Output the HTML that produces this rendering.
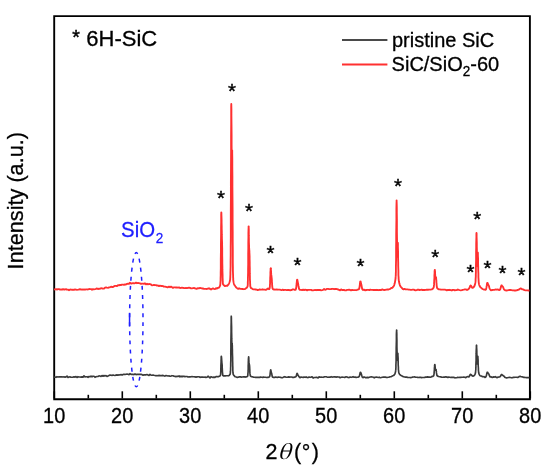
<!DOCTYPE html>
<html><head><meta charset="utf-8"><style>
html,body{margin:0;padding:0;background:#fff;width:550px;height:471px;overflow:hidden}
svg{display:block}
</style></head><body>
<svg width="550" height="471" viewBox="0 0 550 471" font-family="'Liberation Sans', Arial, sans-serif">
<rect x="0" y="0" width="550" height="471" fill="#fff"/>
<path d="M136.3,252.6 A6.7,67.1 0 0 0 136.3,386.8 A6.7,67.1 0 0 0 136.3,252.6" pathLength="300" fill="none" stroke="#2020ff" stroke-width="1.5" stroke-dasharray="4.3 5.7" stroke-dashoffset="2.15"/>
<line x1="129.55" y1="312.8" x2="129.55" y2="326.6" stroke="#2020ff" stroke-width="1.5"/>
<path d="M54.2,16.1 H529.9 V399.2 H54.2 Z" fill="none" stroke="#000" stroke-width="1.9"/>
<polyline points="54.0,377.2 55.0,377.1 56.0,377.3 57.0,376.7 58.0,377.0 59.0,376.9 60.0,376.8 61.0,376.8 62.0,376.9 63.0,377.0 64.0,376.8 65.0,377.2 66.0,376.9 67.0,376.1 68.0,377.5 69.0,377.0 70.0,376.9 71.0,377.2 72.0,377.2 73.0,377.1 74.0,376.8 75.0,377.1 76.0,376.6 77.0,377.5 78.0,376.7 79.0,377.0 80.0,377.0 81.0,377.1 82.0,376.9 83.0,377.1 84.0,375.9 85.0,376.9 86.0,376.8 87.0,376.7 88.0,377.3 89.0,376.5 90.0,376.8 91.0,376.1 92.0,376.8 93.0,376.2 94.0,376.2 95.0,377.3 96.0,376.8 97.0,376.5 98.0,376.5 99.0,375.9 100.0,376.0 101.0,376.4 102.0,375.5 103.0,376.2 104.0,375.5 105.0,376.0 106.0,375.6 107.0,376.4 108.0,376.0 109.0,375.5 110.0,375.0 111.0,375.3 112.0,375.4 113.0,375.0 114.0,375.3 115.0,375.5 116.0,375.1 117.0,374.9 118.0,375.2 119.0,374.8 120.0,375.0 121.0,374.6 122.0,375.1 123.0,374.5 124.0,374.2 125.0,374.5 126.0,374.2 127.0,374.1 128.0,374.3 129.0,374.6 130.0,373.7 131.0,374.3 132.0,374.3 133.0,374.3 134.0,374.6 135.0,373.9 136.0,374.6 137.0,374.3 138.0,374.4 139.0,374.3 140.0,374.3 141.0,374.3 142.0,374.6 143.0,375.2 144.0,374.9 145.0,374.8 146.0,374.8 147.0,374.5 148.0,374.9 149.0,375.4 150.0,374.4 151.0,375.1 152.0,375.2 153.0,375.0 154.0,375.3 155.0,375.5 156.0,375.8 157.0,375.6 158.0,375.7 159.0,375.4 160.0,375.6 161.0,375.5 162.0,375.6 163.0,375.4 164.0,375.8 165.0,376.1 166.0,375.6 167.0,375.8 168.0,376.0 169.0,375.9 170.0,376.2 171.0,376.1 172.0,375.7 173.0,375.8 174.0,376.3 175.0,376.4 176.0,376.6 177.0,376.3 178.0,376.4 179.0,375.9 180.0,376.8 181.0,376.2 182.0,376.8 183.0,376.2 184.0,376.4 185.0,376.6 186.0,376.5 187.0,376.5 188.0,377.0 189.0,376.9 190.0,376.9 191.0,376.7 192.0,376.6 193.0,376.7 194.0,376.7 195.0,376.9 196.0,377.1 197.0,376.9 198.0,376.7 199.0,376.8 200.0,377.4 201.0,377.0 202.0,377.1 203.0,377.1 204.0,377.2 205.0,377.1 206.0,377.4 207.0,377.3 208.0,376.2 209.0,377.0 210.0,378.0 211.0,376.7 212.0,377.1 213.0,377.4 214.0,377.1 215.0,377.4 216.0,376.6 217.0,376.6 218.0,376.8 218.2,376.7 218.4,376.6 218.6,376.6 218.8,376.5 219.0,376.4 219.2,376.3 219.4,376.2 219.4,376.2 219.5,376.2 219.6,376.1 219.6,376.1 219.7,376.1 219.7,376.1 219.8,376.0 219.8,376.0 219.8,376.0 219.9,375.9 219.9,375.9 220.0,375.8 220.1,375.8 220.1,375.8 220.2,375.8 220.2,375.8 220.2,375.7 220.3,375.7 220.3,375.6 220.4,375.4 220.4,375.2 220.5,374.9 220.6,374.6 220.6,374.0 220.7,373.4 220.7,372.6 220.8,371.5 220.8,370.3 220.8,368.9 220.9,367.3 220.9,365.6 221.0,363.9 221.1,362.1 221.1,360.4 221.2,359.0 221.2,357.8 221.2,356.9 221.3,356.4 221.3,356.2 221.4,356.4 221.4,356.9 221.5,357.5 221.6,358.3 221.6,359.1 221.7,359.9 221.7,360.6 221.8,361.2 221.8,361.8 221.8,362.3 221.9,362.7 221.9,363.2 222.0,363.7 222.1,364.4 222.1,365.1 222.2,365.9 222.2,366.9 222.2,367.9 222.3,368.9 222.3,369.9 222.4,370.9 222.4,371.8 222.5,372.6 222.6,373.3 222.6,373.8 222.7,374.3 222.7,374.7 222.8,375.0 222.8,375.2 222.8,375.4 222.9,375.5 222.9,375.6 223.0,375.6 223.1,375.7 223.1,375.7 223.2,375.7 223.2,375.8 223.2,375.8 223.3,375.8 223.5,375.8 223.7,375.8 223.9,375.8 224.1,375.8 224.3,375.9 224.5,375.9 224.7,375.9 224.9,376.0 225.1,376.0 225.3,375.9 226.3,375.8 227.3,375.7 228.3,375.8 228.5,375.7 228.7,375.7 228.9,375.6 229.1,375.4 229.3,375.3 229.5,375.1 229.6,375.0 229.6,374.9 229.7,374.9 229.7,374.8 229.8,374.8 229.8,374.7 229.8,374.6 229.9,374.5 229.9,374.5 230.0,374.4 230.1,374.3 230.1,374.2 230.2,374.1 230.2,373.9 230.2,373.8 230.3,373.5 230.3,373.2 230.4,372.7 230.4,372.1 230.5,371.2 230.6,369.9 230.6,368.3 230.7,366.3 230.7,363.7 230.8,360.5 230.8,356.7 230.8,352.3 230.9,347.5 230.9,342.3 231.0,337.0 231.1,331.7 231.1,326.9 231.2,322.6 231.2,319.4 231.2,317.2 231.3,316.2 231.3,316.6 231.4,318.1 231.4,320.6 231.5,323.9 231.6,327.6 231.6,331.5 231.7,335.2 231.7,338.4 231.8,341.1 231.8,343.0 231.8,344.1 231.9,344.6 231.9,344.6 232.0,344.2 232.1,343.8 232.1,343.4 232.2,343.4 232.2,343.7 232.2,344.5 232.3,345.8 232.3,347.7 232.4,349.9 232.4,352.5 232.5,355.2 232.6,357.9 232.6,360.6 232.7,363.1 232.7,365.4 232.8,367.3 232.8,369.0 232.8,370.4 232.9,371.5 232.9,372.3 233.0,373.0 233.1,373.5 233.1,373.8 233.2,374.1 233.2,374.3 233.2,374.5 233.3,374.6 233.5,374.9 233.7,375.2 233.9,375.4 234.1,375.6 234.3,375.9 234.5,376.1 234.7,376.4 234.9,376.6 235.1,376.7 235.3,376.8 236.3,377.0 237.3,377.4 238.3,377.2 239.3,376.8 240.3,376.8 241.3,377.1 242.3,377.0 243.3,376.9 244.3,376.8 245.3,377.1 245.5,377.0 245.7,376.9 245.9,376.9 246.1,376.8 246.3,376.8 246.5,376.8 246.7,376.7 246.8,376.7 246.8,376.7 246.8,376.7 246.9,376.6 246.9,376.6 247.0,376.6 247.1,376.6 247.1,376.5 247.2,376.5 247.2,376.5 247.2,376.5 247.3,376.4 247.3,376.4 247.4,376.4 247.4,376.3 247.5,376.3 247.6,376.2 247.6,376.1 247.7,376.0 247.7,375.8 247.8,375.6 247.8,375.3 247.8,374.9 247.9,374.4 247.9,373.7 248.0,372.8 248.1,371.8 248.1,370.5 248.2,369.1 248.2,367.5 248.2,365.7 248.3,364.0 248.3,362.2 248.4,360.6 248.4,359.2 248.5,358.1 248.6,357.3 248.6,356.9 248.7,356.9 248.7,357.2 248.8,357.8 248.8,358.7 248.8,359.7 248.9,360.7 248.9,361.6 249.0,362.4 249.1,363.0 249.1,363.5 249.2,363.8 249.2,363.9 249.2,364.0 249.3,364.1 249.3,364.2 249.4,364.5 249.4,364.9 249.5,365.4 249.6,366.1 249.6,366.9 249.7,367.9 249.7,368.8 249.8,369.8 249.8,370.7 249.8,371.6 249.9,372.4 249.9,373.1 250.0,373.7 250.1,374.2 250.1,374.6 250.2,374.9 250.2,375.2 250.2,375.4 250.3,375.6 250.3,375.7 250.4,375.8 250.4,375.9 250.5,376.0 250.6,376.0 250.6,376.1 250.8,376.3 251.0,376.5 251.2,376.6 251.4,376.6 251.6,376.6 251.8,376.7 252.0,376.7 252.2,376.7 252.4,376.8 252.6,376.8 253.6,377.2 254.6,377.2 255.6,377.4 256.6,377.4 257.6,377.3 258.6,377.4 259.6,377.4 260.6,377.1 261.6,377.3 262.6,377.4 263.6,377.1 264.6,377.2 265.6,377.3 266.6,377.5 267.6,377.4 267.8,377.4 268.0,377.3 268.2,377.3 268.4,377.3 268.6,377.2 268.8,377.2 268.9,377.2 268.9,377.2 268.9,377.1 269.0,377.1 269.1,377.1 269.1,377.0 269.1,377.0 269.2,377.0 269.2,376.9 269.3,376.9 269.4,376.8 269.4,376.8 269.4,376.7 269.5,376.7 269.6,376.6 269.6,376.5 269.6,376.4 269.7,376.3 269.8,376.1 269.8,376.0 269.9,375.7 269.9,375.5 269.9,375.2 270.0,374.9 270.1,374.6 270.1,374.2 270.1,373.8 270.2,373.4 270.2,373.0 270.3,372.5 270.4,372.0 270.4,371.6 270.4,371.1 270.5,370.7 270.6,370.4 270.6,370.2 270.6,370.0 270.7,369.9 270.8,370.0 270.8,370.1 270.9,370.2 270.9,370.5 270.9,370.7 271.0,371.0 271.1,371.3 271.1,371.6 271.1,371.9 271.2,372.1 271.2,372.3 271.3,372.5 271.4,372.6 271.4,372.8 271.4,372.9 271.5,373.1 271.6,373.2 271.6,373.3 271.6,373.5 271.7,373.7 271.8,373.9 271.8,374.1 271.9,374.4 271.9,374.7 271.9,374.9 272.0,375.2 272.1,375.5 272.1,375.7 272.1,376.0 272.2,376.2 272.2,376.4 272.3,376.5 272.4,376.7 272.4,376.8 272.4,376.9 272.5,377.0 272.6,377.1 272.6,377.1 272.6,377.2 272.7,377.2 272.9,377.2 273.1,377.3 273.3,377.3 273.5,377.3 273.7,377.3 273.9,377.3 274.1,377.3 274.3,377.4 274.5,377.4 274.7,377.5 275.7,377.1 276.7,377.3 277.7,377.3 278.7,377.0 279.7,377.2 280.7,377.4 281.7,377.7 282.7,377.6 283.7,377.0 284.7,376.7 285.7,377.1 286.7,377.2 287.7,377.1 288.7,376.9 289.7,377.1 290.7,377.0 291.7,377.0 292.7,377.4 293.7,377.4 293.9,377.3 294.1,377.3 294.3,377.2 294.5,377.1 294.7,377.1 294.9,377.0 295.1,377.0 295.3,376.9 295.4,376.9 295.4,376.9 295.4,376.9 295.5,376.9 295.6,376.8 295.6,376.8 295.6,376.8 295.7,376.8 295.8,376.7 295.8,376.7 295.9,376.7 295.9,376.6 295.9,376.6 296.0,376.5 296.1,376.4 296.1,376.3 296.1,376.3 296.2,376.2 296.2,376.0 296.3,375.9 296.4,375.8 296.4,375.6 296.4,375.4 296.5,375.2 296.6,375.0 296.6,374.8 296.6,374.6 296.7,374.4 296.8,374.2 296.8,374.1 296.9,373.9 296.9,373.8 296.9,373.6 297.0,373.5 297.1,373.5 297.1,373.4 297.1,373.4 297.2,373.5 297.2,373.5 297.3,373.6 297.4,373.7 297.4,373.8 297.4,373.9 297.5,374.0 297.6,374.1 297.6,374.3 297.6,374.4 297.7,374.5 297.8,374.6 297.8,374.8 297.9,374.9 297.9,375.0 297.9,375.1 298.0,375.3 298.1,375.3 298.1,375.4 298.1,375.4 298.2,375.5 298.2,375.6 298.3,375.6 298.4,375.7 298.4,375.8 298.4,375.9 298.5,376.0 298.6,376.1 298.6,376.2 298.6,376.2 298.7,376.3 298.8,376.4 298.8,376.5 298.9,376.5 298.9,376.6 298.9,376.6 299.0,376.6 299.1,376.7 299.1,376.8 299.3,377.1 299.5,377.3 299.7,377.5 299.9,377.7 300.1,377.7 300.3,377.5 300.5,377.4 300.7,377.2 300.9,377.1 301.1,377.0 302.1,377.2 303.1,377.4 304.1,377.1 305.1,377.3 306.1,376.9 307.1,377.5 308.1,377.6 309.1,377.1 310.1,377.3 311.1,377.1 312.1,376.8 313.1,378.1 314.1,377.5 315.1,377.5 316.1,377.4 317.1,377.4 318.1,377.9 319.1,376.8 320.1,377.2 321.1,377.1 322.1,377.2 323.1,377.3 324.1,376.9 325.1,376.7 326.1,376.7 327.1,377.1 328.1,377.2 329.1,377.1 330.1,377.2 331.1,376.7 332.1,377.1 333.1,377.0 334.1,376.8 335.1,376.8 336.1,377.2 337.1,376.9 338.1,377.0 339.1,377.0 340.1,377.7 341.1,377.2 342.1,377.1 343.1,377.2 344.1,377.3 345.1,377.3 346.1,376.8 347.1,377.0 348.1,377.5 349.1,377.6 350.1,377.1 351.1,377.3 352.1,377.1 353.1,376.7 354.1,377.2 355.1,377.0 356.1,377.5 357.1,377.2 357.3,377.2 357.5,377.2 357.7,377.2 357.9,377.2 358.1,377.2 358.3,377.1 358.5,377.0 358.6,376.9 358.6,376.9 358.6,376.9 358.7,376.8 358.8,376.8 358.8,376.8 358.9,376.7 358.9,376.7 358.9,376.6 359.0,376.6 359.1,376.5 359.1,376.5 359.1,376.5 359.2,376.4 359.2,376.3 359.3,376.2 359.4,376.1 359.4,376.0 359.4,375.9 359.5,375.7 359.6,375.5 359.6,375.3 359.6,375.1 359.7,374.9 359.8,374.7 359.8,374.4 359.9,374.2 359.9,374.0 359.9,373.7 360.0,373.5 360.1,373.3 360.1,373.0 360.1,372.8 360.2,372.7 360.2,372.5 360.3,372.4 360.4,372.3 360.4,372.3 360.4,372.3 360.5,372.3 360.6,372.3 360.6,372.4 360.6,372.5 360.7,372.6 360.8,372.6 360.8,372.7 360.9,372.8 360.9,372.9 360.9,373.0 361.0,373.1 361.1,373.3 361.1,373.4 361.1,373.6 361.2,373.7 361.2,373.8 361.3,374.0 361.4,374.1 361.4,374.3 361.4,374.5 361.5,374.6 361.6,374.8 361.6,375.0 361.6,375.2 361.7,375.4 361.8,375.5 361.8,375.7 361.9,375.9 361.9,376.1 361.9,376.2 362.0,376.4 362.1,376.5 362.1,376.6 362.1,376.8 362.2,376.9 362.2,376.9 362.3,377.0 362.5,377.3 362.7,377.5 362.9,377.6 363.1,377.6 363.3,377.4 363.5,377.3 363.7,377.1 363.9,377.0 364.1,377.0 364.3,377.1 365.3,377.6 366.3,377.6 367.3,377.4 368.3,377.6 369.3,377.3 370.3,377.0 371.3,376.8 372.3,377.0 373.3,377.2 374.3,377.8 375.3,377.3 376.3,377.1 377.3,377.2 378.3,377.5 379.3,377.2 380.3,377.7 381.3,377.5 382.3,377.2 383.3,377.1 384.3,377.1 385.3,377.0 386.3,377.4 387.3,377.5 388.3,377.3 389.3,377.1 390.3,376.7 391.3,376.6 392.3,376.0 393.3,375.6 393.5,375.5 393.7,375.4 393.9,375.2 394.1,375.1 394.3,374.9 394.5,374.6 394.7,374.3 394.8,374.2 394.8,374.1 394.9,374.0 394.9,373.9 394.9,373.8 395.0,373.7 395.1,373.6 395.1,373.4 395.1,373.2 395.2,373.0 395.2,372.8 395.3,372.6 395.4,372.4 395.4,372.2 395.4,372.0 395.5,371.7 395.6,371.4 395.6,371.1 395.6,370.7 395.7,370.2 395.8,369.6 395.8,368.9 395.9,367.9 395.9,366.6 395.9,365.0 396.0,363.1 396.1,360.8 396.1,358.1 396.1,355.0 396.2,351.6 396.2,347.9 396.3,344.2 396.4,340.5 396.4,337.1 396.4,334.2 396.5,332.0 396.6,330.5 396.6,330.0 396.6,330.4 396.7,331.7 396.8,333.8 396.8,336.5 396.9,339.7 396.9,343.2 396.9,346.6 397.0,349.9 397.1,352.9 397.1,355.4 397.1,357.4 397.2,358.9 397.2,359.8 397.3,360.1 397.4,360.0 397.4,359.5 397.4,358.6 397.5,357.6 397.6,356.4 397.6,355.3 397.6,354.4 397.7,353.6 397.8,353.2 397.8,353.2 397.9,353.5 397.9,354.2 397.9,355.2 398.0,356.5 398.1,358.1 398.1,359.7 398.1,361.4 398.2,363.1 398.2,364.7 398.3,366.1 398.4,367.3 398.4,368.4 398.4,369.3 398.5,370.1 398.6,370.7 398.6,371.2 398.8,372.5 399.0,373.2 399.2,373.6 399.4,374.0 399.6,374.3 399.8,374.5 400.0,374.7 400.2,374.9 400.4,375.1 400.6,375.3 401.6,375.8 402.6,376.4 403.6,376.7 404.6,377.0 405.6,377.1 406.6,377.1 407.6,377.4 408.6,377.5 409.6,377.5 410.6,377.6 411.6,377.5 412.6,377.1 413.6,377.0 414.6,376.9 415.6,377.2 416.6,377.3 417.6,377.4 418.6,377.5 419.6,377.3 420.6,377.3 421.6,377.6 422.6,377.5 423.6,377.5 424.6,377.4 425.6,377.1 426.6,377.1 427.6,376.9 428.6,377.1 429.6,377.1 430.6,377.2 431.6,376.8 431.8,376.6 432.0,376.4 432.2,376.4 432.4,376.4 432.6,376.4 432.8,376.4 433.0,376.3 433.1,376.3 433.1,376.3 433.1,376.2 433.2,376.2 433.2,376.2 433.3,376.1 433.4,376.1 433.4,376.0 433.4,376.0 433.5,375.9 433.6,375.9 433.6,375.8 433.6,375.7 433.7,375.6 433.8,375.4 433.8,375.3 433.9,375.1 433.9,374.8 433.9,374.5 434.0,374.1 434.1,373.7 434.1,373.2 434.1,372.6 434.2,372.0 434.2,371.3 434.3,370.5 434.4,369.7 434.4,368.9 434.4,368.1 434.5,367.3 434.6,366.5 434.6,365.9 434.6,365.3 434.7,364.9 434.8,364.6 434.8,364.5 434.9,364.5 434.9,364.7 434.9,365.0 435.0,365.4 435.1,365.9 435.1,366.5 435.1,367.1 435.2,367.7 435.2,368.3 435.3,368.8 435.4,369.3 435.4,369.6 435.4,369.9 435.5,370.0 435.6,370.1 435.6,370.1 435.6,370.0 435.7,369.9 435.8,369.8 435.8,369.6 435.9,369.5 435.9,369.4 435.9,369.4 436.0,369.5 436.1,369.6 436.1,369.7 436.1,370.0 436.2,370.3 436.2,370.7 436.3,371.1 436.4,371.5 436.4,372.0 436.4,372.4 436.5,372.9 436.6,373.3 436.6,373.7 436.6,374.0 436.7,374.3 436.8,374.6 436.8,374.9 437.0,375.5 437.2,375.8 437.4,376.0 437.6,376.1 437.8,376.2 438.0,376.3 438.2,376.3 438.4,376.4 438.6,376.4 438.8,376.5 439.8,376.8 440.8,376.9 441.8,377.2 442.8,377.2 443.8,377.1 444.8,377.1 445.8,376.8 446.8,377.1 447.8,377.4 448.8,377.1 449.8,377.2 450.8,377.5 451.8,377.2 452.8,377.4 453.8,377.3 454.8,377.9 455.8,377.8 456.8,377.7 457.8,377.3 458.8,377.5 459.8,377.3 460.8,377.4 461.8,377.2 462.8,377.3 463.8,377.1 464.8,377.3 465.8,377.7 466.8,376.9 467.0,376.7 467.2,376.7 467.4,376.7 467.6,376.7 467.8,376.6 468.0,376.6 468.2,376.7 468.4,376.8 468.4,376.8 468.5,376.8 468.6,376.8 468.6,376.8 468.6,376.8 468.7,376.8 468.8,376.8 468.8,376.8 468.9,376.8 468.9,376.8 468.9,376.8 469.0,376.8 469.1,376.7 469.1,376.7 469.1,376.6 469.2,376.6 469.2,376.5 469.3,376.4 469.4,376.3 469.4,376.2 469.4,376.1 469.5,376.0 469.6,375.9 469.6,375.8 469.6,375.7 469.7,375.6 469.8,375.5 469.8,375.4 469.9,375.3 469.9,375.1 469.9,375.0 470.0,375.0 470.1,374.8 470.1,374.7 470.1,374.7 470.2,374.6 470.2,374.5 470.3,374.5 470.4,374.4 470.4,374.4 470.4,374.4 470.5,374.4 470.6,374.4 470.6,374.4 470.6,374.4 470.7,374.4 470.8,374.5 470.8,374.5 470.9,374.5 470.9,374.6 470.9,374.6 471.0,374.6 471.1,374.7 471.1,374.7 471.1,374.8 471.2,374.8 471.2,374.9 471.3,374.9 471.4,375.0 471.4,375.0 471.4,375.0 471.5,375.1 471.6,375.1 471.6,375.2 471.6,375.2 471.7,375.3 471.8,375.3 471.8,375.4 471.9,375.4 471.9,375.5 471.9,375.6 472.0,375.6 472.1,375.7 472.1,375.7 472.1,375.8 472.2,375.8 472.2,375.9 472.3,375.9 472.5,376.0 472.7,376.1 472.9,376.2 473.1,376.1 473.3,376.1 473.5,376.0 473.7,375.9 473.9,375.7 474.1,375.5 474.3,375.4 474.5,375.2 474.7,374.9 474.8,374.9 474.8,374.8 474.9,374.7 474.9,374.6 474.9,374.5 475.0,374.5 475.1,374.3 475.1,374.2 475.1,374.0 475.2,373.9 475.2,373.7 475.3,373.6 475.4,373.4 475.4,373.1 475.4,372.9 475.5,372.6 475.6,372.2 475.6,371.8 475.6,371.2 475.7,370.5 475.8,369.7 475.8,368.6 475.9,367.4 475.9,365.9 475.9,364.2 476.0,362.2 476.1,360.2 476.1,358.0 476.1,355.7 476.2,353.4 476.2,351.2 476.3,349.3 476.4,347.6 476.4,346.3 476.4,345.5 476.5,345.2 476.6,345.4 476.6,346.1 476.6,347.3 476.7,348.9 476.8,350.7 476.8,352.8 476.9,354.8 476.9,356.9 476.9,358.8 477.0,360.5 477.1,361.9 477.1,362.9 477.1,363.6 477.2,363.9 477.2,363.9 477.3,363.6 477.4,363.0 477.4,362.2 477.4,361.2 477.5,360.2 477.6,359.1 477.6,358.1 477.6,357.3 477.7,356.7 477.8,356.3 477.8,356.3 477.9,356.5 477.9,357.1 477.9,357.9 478.0,359.0 478.1,360.2 478.1,361.6 478.1,363.0 478.2,364.4 478.2,365.8 478.3,367.0 478.4,368.2 478.4,369.2 478.4,370.1 478.5,370.9 478.7,372.8 478.9,373.6 479.1,374.1 479.3,374.5 479.5,374.9 479.7,375.2 479.9,375.5 480.1,375.7 480.3,375.8 480.5,375.8 481.5,376.0 482.5,376.7 483.5,376.8 483.7,376.7 483.9,376.6 484.1,376.6 484.3,376.8 484.5,377.0 484.7,377.1 484.9,377.3 485.1,377.3 485.3,377.3 485.5,377.2 485.6,377.1 485.6,377.1 485.6,377.1 485.7,377.0 485.8,377.0 485.8,376.9 485.9,376.9 485.9,376.8 485.9,376.7 486.0,376.6 486.1,376.5 486.1,376.4 486.1,376.3 486.2,376.1 486.2,376.0 486.3,375.8 486.4,375.7 486.4,375.5 486.4,375.3 486.5,375.1 486.6,374.9 486.6,374.6 486.6,374.4 486.7,374.2 486.8,373.9 486.8,373.7 486.9,373.5 486.9,373.3 486.9,373.1 487.0,372.9 487.1,372.7 487.1,372.6 487.1,372.5 487.2,372.4 487.2,372.3 487.3,372.2 487.4,372.2 487.4,372.2 487.4,372.2 487.5,372.2 487.6,372.3 487.6,372.3 487.6,372.4 487.7,372.5 487.8,372.6 487.8,372.7 487.9,372.8 487.9,372.9 487.9,373.0 488.0,373.1 488.1,373.2 488.1,373.2 488.1,373.3 488.2,373.4 488.2,373.4 488.3,373.5 488.4,373.5 488.4,373.6 488.4,373.6 488.5,373.7 488.6,373.7 488.6,373.8 488.6,373.8 488.7,373.9 488.8,374.0 488.8,374.1 488.9,374.1 488.9,374.2 488.9,374.3 489.0,374.4 489.1,374.5 489.1,374.7 489.1,374.9 489.2,375.0 489.2,375.2 489.3,375.3 489.5,375.8 489.7,376.3 489.9,376.6 490.1,376.8 490.3,376.8 490.5,376.8 490.7,376.7 490.9,376.7 491.1,376.7 491.3,376.9 492.3,377.4 493.3,376.9 494.3,377.1 495.3,376.7 496.3,377.4 497.3,377.6 498.3,377.1 498.5,377.1 498.7,377.0 498.9,377.0 499.1,377.0 499.3,377.0 499.5,377.0 499.7,376.9 499.8,376.9 499.8,376.9 499.9,376.8 499.9,376.8 499.9,376.8 500.0,376.7 500.1,376.7 500.1,376.7 500.1,376.6 500.2,376.6 500.2,376.5 500.3,376.5 500.4,376.4 500.4,376.3 500.4,376.2 500.5,376.2 500.6,376.1 500.6,376.0 500.6,375.9 500.7,375.8 500.8,375.7 500.8,375.6 500.9,375.5 500.9,375.4 500.9,375.3 501.0,375.2 501.1,375.1 501.1,375.0 501.1,374.9 501.2,374.8 501.2,374.7 501.3,374.7 501.4,374.6 501.4,374.6 501.4,374.5 501.5,374.5 501.6,374.5 501.6,374.5 501.6,374.5 501.7,374.5 501.8,374.6 501.8,374.6 501.9,374.6 501.9,374.7 501.9,374.7 502.0,374.8 502.1,374.8 502.1,374.8 502.1,374.9 502.2,374.9 502.2,375.0 502.3,375.0 502.4,375.0 502.4,375.1 502.4,375.1 502.5,375.1 502.6,375.2 502.6,375.2 502.6,375.2 502.7,375.3 502.8,375.3 502.8,375.3 502.9,375.4 502.9,375.4 502.9,375.5 503.0,375.5 503.1,375.5 503.1,375.6 503.1,375.6 503.2,375.6 503.2,375.7 503.3,375.7 503.4,375.7 503.4,375.8 503.4,375.8 503.5,375.9 503.7,376.0 503.9,376.1 504.1,376.3 504.3,376.6 504.5,376.9 504.7,377.1 504.9,377.3 505.1,377.4 505.3,377.5 505.5,377.5 506.5,377.9 507.5,377.8 508.5,377.5 509.5,377.4 510.5,377.5 511.5,377.8 512.5,377.6 513.5,377.3 514.5,377.3 515.5,377.2 516.5,377.3 517.5,377.4 517.7,377.4 517.9,377.4 518.1,377.3 518.3,377.2 518.5,377.0 518.7,376.9 518.8,376.8 518.8,376.8 518.9,376.7 518.9,376.7 519.0,376.7 519.0,376.6 519.0,376.6 519.1,376.6 519.1,376.6 519.2,376.6 519.2,376.6 519.3,376.5 519.4,376.5 519.4,376.5 519.5,376.5 519.5,376.5 519.5,376.5 519.6,376.5 519.6,376.5 519.7,376.4 519.8,376.4 519.8,376.4 519.9,376.4 519.9,376.4 520.0,376.4 520.0,376.4 520.0,376.4 520.1,376.4 520.1,376.4 520.2,376.4 520.2,376.4 520.3,376.4 520.4,376.4 520.4,376.5 520.5,376.5 520.5,376.5 520.5,376.5 520.6,376.5 520.6,376.6 520.7,376.6 520.8,376.6 520.8,376.6 520.9,376.6 520.9,376.7 521.0,376.7 521.0,376.7 521.0,376.7 521.1,376.7 521.1,376.7 521.2,376.7 521.2,376.7 521.3,376.7 521.4,376.7 521.4,376.7 521.5,376.7 521.5,376.7 521.5,376.7 521.6,376.7 521.6,376.7 521.7,376.7 521.8,376.7 521.8,376.7 521.9,376.7 521.9,376.7 522.0,376.7 522.0,376.7 522.0,376.7 522.1,376.7 522.1,376.7 522.2,376.8 522.2,376.8 522.3,376.8 522.4,376.8 522.4,376.8 522.5,376.9 522.5,376.9 522.7,377.0 522.9,377.1 523.1,377.1 523.3,377.2 523.5,377.3 523.7,377.3 523.9,377.3 524.1,377.4 524.3,377.4 524.5,377.4 525.5,377.5 526.5,377.6 527.5,377.5 528.5,377.6 529.5,377.6" fill="none" stroke="#3a3a3a" stroke-width="1.65" stroke-linejoin="round"/>
<polyline points="54.0,289.5 55.0,289.3 56.0,289.2 57.0,289.5 58.0,289.2 59.0,289.1 60.0,289.6 61.0,289.5 62.0,289.7 63.0,289.2 64.0,289.5 65.0,289.5 66.0,289.1 67.0,289.7 68.0,289.6 69.0,290.2 70.0,289.6 71.0,289.5 72.0,289.9 73.0,289.6 74.0,289.8 75.0,289.4 76.0,289.6 77.0,289.8 78.0,289.7 79.0,289.5 80.0,289.2 81.0,289.6 82.0,289.5 83.0,289.7 84.0,289.5 85.0,289.7 86.0,289.4 87.0,289.4 88.0,289.5 89.0,289.0 90.0,289.2 91.0,289.1 92.0,289.8 93.0,289.1 94.0,289.3 95.0,289.2 96.0,288.9 97.0,288.4 98.0,289.1 99.0,288.6 100.0,288.9 101.0,288.1 102.0,288.3 103.0,288.7 104.0,288.6 105.0,287.6 106.0,287.5 107.0,287.7 108.0,287.8 109.0,287.4 110.0,287.3 111.0,286.7 112.0,287.0 113.0,287.0 114.0,286.3 115.0,285.8 116.0,285.8 117.0,286.1 118.0,285.1 119.0,285.4 120.0,284.9 121.0,285.0 122.0,284.7 123.0,284.6 124.0,284.9 125.0,284.4 126.0,284.5 127.0,283.9 128.0,283.7 129.0,283.8 130.0,282.7 131.0,283.5 132.0,283.5 133.0,283.0 134.0,283.5 135.0,283.1 136.0,282.6 137.0,283.2 138.0,283.0 139.0,283.2 140.0,283.4 141.0,283.9 142.0,283.6 143.0,283.6 144.0,283.9 145.0,283.3 146.0,284.4 147.0,283.8 148.0,284.4 149.0,284.0 150.0,284.2 151.0,284.5 152.0,285.4 153.0,285.2 154.0,284.9 155.0,285.2 156.0,285.1 157.0,285.6 158.0,285.5 159.0,286.1 160.0,285.6 161.0,286.0 162.0,286.0 163.0,286.2 164.0,286.7 165.0,286.6 166.0,286.9 167.0,287.2 168.0,287.2 169.0,286.6 170.0,287.2 171.0,286.6 172.0,287.2 173.0,287.9 174.0,287.3 175.0,287.3 176.0,287.5 177.0,287.5 178.0,287.6 179.0,287.4 180.0,288.0 181.0,287.9 182.0,287.6 183.0,287.8 184.0,288.0 185.0,288.1 186.0,288.0 187.0,288.1 188.0,287.8 189.0,287.6 190.0,287.8 191.0,288.3 192.0,288.3 193.0,288.1 194.0,288.0 195.0,288.3 196.0,288.7 197.0,288.7 198.0,288.1 199.0,288.3 200.0,287.9 201.0,288.1 202.0,288.5 203.0,288.5 204.0,288.8 205.0,288.9 206.0,288.8 207.0,289.0 208.0,288.5 209.0,288.3 210.0,288.9 211.0,289.5 212.0,288.8 213.0,288.4 214.0,288.8 215.0,289.1 216.0,288.2 217.0,288.6 218.0,287.8 218.2,287.8 218.4,287.8 218.6,287.8 218.8,287.7 219.0,287.6 219.2,287.4 219.4,287.1 219.4,287.0 219.5,286.9 219.6,286.8 219.6,286.7 219.7,286.6 219.7,286.5 219.8,286.4 219.8,286.3 219.8,286.2 219.9,286.1 219.9,286.0 220.0,285.8 220.1,285.7 220.1,285.6 220.2,285.4 220.2,285.2 220.2,284.9 220.3,284.6 220.3,284.1 220.4,283.5 220.4,282.7 220.5,281.6 220.6,280.1 220.6,278.1 220.7,275.6 220.7,272.4 220.8,268.6 220.8,264.0 220.8,258.7 220.9,252.8 220.9,246.5 221.0,239.9 221.1,233.5 221.1,227.5 221.2,222.2 221.2,217.8 221.2,214.6 221.3,212.8 221.3,212.3 221.4,213.0 221.4,214.6 221.5,217.1 221.6,220.0 221.6,223.0 221.7,226.0 221.7,228.7 221.8,231.0 221.8,233.1 221.8,234.9 221.9,236.6 221.9,238.4 222.0,240.5 222.1,242.8 222.1,245.4 222.2,248.5 222.2,251.9 222.2,255.6 222.3,259.4 222.3,263.1 222.4,266.6 222.4,269.9 222.5,272.8 222.6,275.4 222.6,277.5 222.7,279.2 222.7,280.6 222.8,281.7 222.8,282.5 222.8,283.1 222.9,283.5 222.9,283.8 223.0,284.0 223.1,284.2 223.1,284.3 223.2,284.5 223.2,284.5 223.2,284.6 223.3,284.7 223.5,284.9 223.7,285.1 223.9,285.2 224.1,285.4 224.3,285.6 224.5,285.8 224.7,286.0 224.9,286.1 225.1,286.1 225.3,286.0 226.3,285.6 227.3,285.8 228.3,284.7 228.5,284.4 228.7,284.1 228.9,283.7 229.1,283.3 229.3,282.8 229.5,282.2 229.6,282.1 229.6,281.9 229.7,281.8 229.7,281.6 229.8,281.4 229.8,281.2 229.8,281.0 229.9,280.7 229.9,280.5 230.0,280.3 230.1,280.0 230.1,279.6 230.2,279.2 230.2,278.8 230.2,278.2 230.3,277.4 230.3,276.3 230.4,274.8 230.4,272.8 230.5,270.1 230.6,266.4 230.6,261.5 230.7,255.2 230.7,247.3 230.8,237.7 230.8,226.3 230.8,213.1 230.9,198.5 230.9,182.9 231.0,166.8 231.1,151.0 231.1,136.4 231.2,123.7 231.2,113.7 231.2,107.1 231.3,104.0 231.3,104.7 231.4,108.8 231.4,115.6 231.5,124.5 231.6,134.5 231.6,144.4 231.7,153.5 231.7,160.8 231.8,165.9 231.8,168.5 231.8,168.7 231.9,166.8 231.9,163.4 232.0,159.2 232.1,155.1 232.1,151.9 232.2,150.3 232.2,150.7 232.2,153.6 232.3,158.9 232.3,166.4 232.4,175.8 232.4,186.6 232.5,198.1 232.6,209.8 232.6,221.2 232.7,231.8 232.7,241.4 232.8,249.7 232.8,256.8 232.8,262.6 232.9,267.2 232.9,270.8 233.0,273.5 233.1,275.6 233.1,277.1 233.2,278.3 233.2,279.2 233.2,279.9 233.3,280.4 233.5,281.8 233.7,282.9 233.9,283.8 234.1,284.4 234.3,284.8 234.5,285.1 234.7,285.4 234.9,285.6 235.1,285.8 235.3,286.2 236.3,287.6 237.3,288.4 238.3,288.9 239.3,288.4 240.3,288.8 241.3,288.8 242.3,289.0 243.3,289.2 244.3,289.1 245.3,288.9 245.5,288.7 245.7,288.5 245.9,288.3 246.1,288.1 246.3,288.0 246.5,287.9 246.7,287.7 246.8,287.7 246.8,287.6 246.8,287.6 246.9,287.5 246.9,287.5 247.0,287.4 247.1,287.3 247.1,287.3 247.2,287.2 247.2,287.1 247.2,287.1 247.3,287.0 247.3,286.9 247.4,286.8 247.4,286.7 247.5,286.5 247.6,286.3 247.6,286.1 247.7,285.7 247.7,285.2 247.8,284.6 247.8,283.6 247.8,282.4 247.9,280.7 247.9,278.6 248.0,275.9 248.1,272.6 248.1,268.7 248.2,264.2 248.2,259.2 248.2,253.8 248.3,248.3 248.3,242.9 248.4,237.8 248.4,233.4 248.5,229.9 248.6,227.5 248.6,226.3 248.7,226.3 248.7,227.5 248.8,229.5 248.8,232.3 248.8,235.4 248.9,238.6 248.9,241.6 249.0,244.2 249.1,246.2 249.1,247.6 249.2,248.5 249.2,249.1 249.2,249.4 249.3,249.7 249.3,250.2 249.4,251.0 249.4,252.3 249.5,254.1 249.6,256.3 249.6,259.0 249.7,261.9 249.7,265.0 249.8,268.1 249.8,271.1 249.8,273.9 249.9,276.4 249.9,278.6 250.0,280.5 250.1,282.0 250.1,283.3 250.2,284.2 250.2,285.0 250.2,285.6 250.3,286.0 250.3,286.4 250.4,286.6 250.4,286.8 250.5,287.0 250.6,287.1 250.6,287.3 250.8,287.7 251.0,288.1 251.2,288.2 251.4,288.2 251.6,288.3 251.8,288.3 252.0,288.3 252.2,288.6 252.4,288.8 252.6,289.1 253.6,289.4 254.6,289.3 255.6,289.5 256.6,289.7 257.6,290.0 258.6,289.8 259.6,289.5 260.6,289.7 261.6,289.6 262.6,289.3 263.6,289.6 264.6,289.7 265.6,289.8 266.6,289.5 267.6,288.8 267.8,288.7 268.0,288.5 268.2,288.7 268.4,288.8 268.6,288.9 268.8,289.1 268.9,289.1 268.9,289.1 268.9,289.1 269.0,289.2 269.1,289.1 269.1,289.1 269.1,289.1 269.2,289.1 269.2,289.0 269.3,289.0 269.4,288.9 269.4,288.9 269.4,288.8 269.5,288.7 269.6,288.5 269.6,288.4 269.6,288.2 269.7,287.9 269.8,287.6 269.8,287.1 269.9,286.6 269.9,286.0 269.9,285.2 270.0,284.3 270.1,283.3 270.1,282.2 270.1,280.9 270.2,279.6 270.2,278.1 270.3,276.6 270.4,275.1 270.4,273.7 270.4,272.3 270.5,271.1 270.6,270.0 270.6,269.2 270.6,268.6 270.7,268.3 270.8,268.2 270.8,268.3 270.9,268.7 270.9,269.3 270.9,270.0 271.0,270.7 271.1,271.5 271.1,272.3 271.1,273.1 271.2,273.7 271.2,274.3 271.3,274.9 271.4,275.3 271.4,275.8 271.4,276.1 271.5,276.5 271.6,276.9 271.6,277.3 271.6,277.8 271.7,278.3 271.8,278.9 271.8,279.6 271.9,280.3 271.9,281.1 271.9,281.9 272.0,282.7 272.1,283.5 272.1,284.2 272.1,285.0 272.2,285.6 272.2,286.2 272.3,286.7 272.4,287.2 272.4,287.6 272.4,287.9 272.5,288.2 272.6,288.4 272.6,288.6 272.6,288.7 272.7,288.8 272.9,289.1 273.1,289.2 273.3,289.3 273.5,289.4 273.7,289.5 273.9,289.6 274.1,289.6 274.3,289.6 274.5,289.5 274.7,289.5 275.7,289.6 276.7,289.4 277.7,289.7 278.7,289.6 279.7,289.6 280.7,289.9 281.7,290.1 282.7,289.7 283.7,290.1 284.7,289.9 285.7,289.9 286.7,290.1 287.7,290.0 288.7,289.9 289.7,290.2 290.7,290.2 291.7,290.0 292.7,289.4 293.7,289.4 293.9,289.5 294.1,289.6 294.3,289.7 294.5,289.8 294.7,289.9 294.9,289.9 295.1,289.9 295.3,289.8 295.4,289.8 295.4,289.8 295.4,289.7 295.5,289.7 295.6,289.7 295.6,289.6 295.6,289.6 295.7,289.5 295.8,289.4 295.8,289.3 295.9,289.2 295.9,289.1 295.9,288.9 296.0,288.7 296.1,288.5 296.1,288.3 296.1,288.0 296.2,287.7 296.2,287.3 296.3,286.9 296.4,286.5 296.4,286.0 296.4,285.5 296.5,285.0 296.6,284.5 296.6,283.9 296.6,283.4 296.7,282.8 296.8,282.3 296.8,281.8 296.9,281.3 296.9,280.9 296.9,280.5 297.0,280.2 297.1,280.0 297.1,279.8 297.1,279.7 297.2,279.7 297.2,279.8 297.3,279.9 297.4,280.0 297.4,280.2 297.4,280.4 297.5,280.7 297.6,280.9 297.6,281.2 297.6,281.5 297.7,281.7 297.8,282.0 297.8,282.2 297.9,282.5 297.9,282.7 297.9,283.0 298.0,283.2 298.1,283.4 298.1,283.7 298.1,283.9 298.2,284.2 298.2,284.5 298.3,284.7 298.4,285.0 298.4,285.3 298.4,285.6 298.5,286.0 298.6,286.3 298.6,286.6 298.6,286.9 298.7,287.2 298.8,287.4 298.8,287.7 298.9,287.9 298.9,288.2 298.9,288.4 299.0,288.5 299.1,288.7 299.1,288.9 299.3,289.3 299.5,289.6 299.7,289.7 299.9,289.8 300.1,289.9 300.3,289.9 300.5,289.9 300.7,289.9 300.9,289.9 301.1,289.9 302.1,290.1 303.1,289.6 304.1,290.1 305.1,289.7 306.1,289.8 307.1,290.4 308.1,289.9 309.1,289.8 310.1,289.8 311.1,289.8 312.1,290.4 313.1,290.3 314.1,290.1 315.1,290.0 316.1,290.2 317.1,289.9 318.1,290.0 319.1,290.0 320.1,289.9 321.1,290.3 322.1,290.2 323.1,289.9 324.1,289.0 325.1,289.8 326.1,289.4 327.1,288.9 328.1,288.9 329.1,289.2 330.1,289.1 331.1,289.0 332.1,288.8 333.1,288.9 334.1,289.2 335.1,289.0 336.1,289.0 337.1,289.2 338.1,289.5 339.1,289.8 340.1,290.3 341.1,289.4 342.1,290.0 343.1,289.9 344.1,290.0 345.1,290.3 346.1,290.3 347.1,289.9 348.1,289.8 349.1,289.6 350.1,290.0 351.1,290.3 352.1,289.9 353.1,290.1 354.1,290.1 355.1,290.1 356.1,290.2 357.1,289.8 357.3,289.7 357.5,289.7 357.7,289.6 357.9,289.6 358.1,289.5 358.3,289.5 358.5,289.4 358.6,289.4 358.6,289.4 358.6,289.3 358.7,289.3 358.8,289.3 358.8,289.2 358.9,289.2 358.9,289.2 358.9,289.1 359.0,289.0 359.1,289.0 359.1,288.9 359.1,288.8 359.2,288.7 359.2,288.5 359.3,288.4 359.4,288.2 359.4,287.9 359.4,287.7 359.5,287.4 359.6,287.0 359.6,286.7 359.6,286.3 359.7,285.8 359.8,285.4 359.8,285.0 359.9,284.5 359.9,284.1 359.9,283.6 360.0,283.2 360.1,282.8 360.1,282.4 360.1,282.1 360.2,281.8 360.2,281.6 360.3,281.5 360.4,281.4 360.4,281.3 360.4,281.3 360.5,281.4 360.6,281.5 360.6,281.7 360.6,281.8 360.7,282.0 360.8,282.2 360.8,282.4 360.9,282.7 360.9,282.9 360.9,283.1 361.0,283.3 361.1,283.5 361.1,283.7 361.1,283.9 361.2,284.1 361.2,284.3 361.3,284.5 361.4,284.7 361.4,285.0 361.4,285.2 361.5,285.4 361.6,285.7 361.6,286.0 361.6,286.2 361.7,286.5 361.8,286.8 361.8,287.1 361.9,287.3 361.9,287.6 361.9,287.8 362.0,288.0 362.1,288.3 362.1,288.5 362.1,288.7 362.2,288.8 362.2,289.0 362.3,289.1 362.5,289.5 362.7,289.8 362.9,289.9 363.1,290.0 363.3,289.9 363.5,289.8 363.7,289.7 363.9,289.6 364.1,289.7 364.3,289.8 365.3,290.3 366.3,290.0 367.3,289.8 368.3,289.9 369.3,290.1 370.3,289.6 371.3,289.8 372.3,289.9 373.3,290.0 374.3,290.0 375.3,290.0 376.3,289.8 377.3,290.0 378.3,290.2 379.3,290.0 380.3,289.9 381.3,290.0 382.3,289.4 383.3,289.8 384.3,290.0 385.3,289.9 386.3,289.6 387.3,289.5 388.3,289.5 389.3,289.2 390.3,288.8 391.3,288.0 392.3,287.9 393.3,286.7 393.5,286.4 393.7,286.2 393.9,285.8 394.1,285.4 394.3,284.8 394.5,284.1 394.7,283.3 394.8,283.1 394.8,282.9 394.9,282.6 394.9,282.4 394.9,282.2 395.0,281.9 395.1,281.6 395.1,281.4 395.1,281.1 395.2,280.8 395.2,280.5 395.3,280.2 395.4,279.9 395.4,279.5 395.4,279.2 395.5,278.7 395.6,278.3 395.6,277.7 395.6,277.0 395.7,276.2 395.8,275.1 395.8,273.7 395.9,271.9 395.9,269.6 395.9,266.7 396.0,263.1 396.1,258.7 396.1,253.6 396.1,247.7 396.2,241.2 396.2,234.3 396.3,227.2 396.4,220.3 396.4,213.9 396.4,208.4 396.5,204.1 396.6,201.3 396.6,200.3 396.6,201.0 396.7,203.5 396.8,207.4 396.8,212.5 396.9,218.5 396.9,225.0 396.9,231.5 397.0,237.7 397.1,243.3 397.1,248.1 397.1,251.8 397.2,254.5 397.2,256.1 397.3,256.7 397.4,256.4 397.4,255.2 397.4,253.5 397.5,251.4 397.6,249.1 397.6,246.9 397.6,245.0 397.7,243.6 397.8,242.8 397.8,242.7 397.9,243.4 397.9,244.8 397.9,247.0 398.0,249.7 398.1,252.7 398.1,256.0 398.1,259.4 398.2,262.6 398.2,265.7 398.3,268.5 398.4,270.9 398.4,273.0 398.4,274.8 398.5,276.2 398.6,277.4 398.6,278.3 398.8,280.6 399.0,281.8 399.2,282.7 399.4,283.6 399.6,284.3 399.8,284.9 400.0,285.5 400.2,285.9 400.4,286.3 400.6,286.6 401.6,287.7 402.6,288.8 403.6,289.3 404.6,288.9 405.6,289.3 406.6,289.4 407.6,289.4 408.6,289.6 409.6,289.6 410.6,289.8 411.6,289.8 412.6,289.6 413.6,289.7 414.6,290.0 415.6,290.3 416.6,290.1 417.6,289.7 418.6,289.7 419.6,290.0 420.6,289.9 421.6,289.7 422.6,290.0 423.6,290.0 424.6,290.0 425.6,289.8 426.6,289.7 427.6,289.7 428.6,289.7 429.6,289.6 430.6,289.6 431.6,289.4 431.8,289.3 432.0,289.3 432.2,289.2 432.4,289.0 432.6,288.9 432.8,288.7 433.0,288.5 433.1,288.5 433.1,288.4 433.1,288.4 433.2,288.3 433.2,288.2 433.3,288.2 433.4,288.1 433.4,288.0 433.4,287.9 433.5,287.8 433.6,287.7 433.6,287.6 433.6,287.4 433.7,287.3 433.8,287.0 433.8,286.8 433.9,286.4 433.9,286.0 433.9,285.6 434.0,285.0 434.1,284.3 434.1,283.5 434.1,282.6 434.2,281.6 434.2,280.5 434.3,279.3 434.4,278.0 434.4,276.7 434.4,275.4 434.5,274.2 434.6,273.0 434.6,272.0 434.6,271.1 434.7,270.5 434.8,270.0 434.8,269.8 434.9,269.8 434.9,270.1 434.9,270.6 435.0,271.2 435.1,272.0 435.1,272.9 435.1,273.9 435.2,274.8 435.2,275.7 435.3,276.5 435.4,277.1 435.4,277.7 435.4,278.1 435.5,278.3 435.6,278.4 435.6,278.3 435.6,278.2 435.7,278.0 435.8,277.8 435.8,277.5 435.9,277.3 435.9,277.2 435.9,277.2 436.0,277.2 436.1,277.4 436.1,277.8 436.1,278.2 436.2,278.8 436.2,279.4 436.3,280.1 436.4,280.8 436.4,281.6 436.4,282.4 436.5,283.1 436.6,283.8 436.6,284.5 436.6,285.1 436.7,285.6 436.8,286.1 436.8,286.5 437.0,287.7 437.2,288.2 437.4,288.4 437.6,288.6 437.8,288.7 438.0,288.8 438.2,289.0 438.4,289.1 438.6,289.2 438.8,289.3 439.8,289.3 440.8,289.6 441.8,289.7 442.8,289.6 443.8,289.7 444.8,289.6 445.8,289.9 446.8,290.3 447.8,289.9 448.8,290.0 449.8,289.8 450.8,290.1 451.8,290.5 452.8,289.9 453.8,289.9 454.8,290.4 455.8,290.2 456.8,290.1 457.8,289.5 458.8,289.9 459.8,290.2 460.8,290.4 461.8,290.2 462.8,289.8 463.8,289.7 464.8,289.4 465.8,289.4 466.8,289.9 467.0,290.0 467.2,289.9 467.4,289.8 467.6,289.7 467.8,289.6 468.0,289.5 468.2,289.3 468.4,289.2 468.4,289.2 468.5,289.1 468.6,289.1 468.6,289.0 468.6,289.0 468.7,288.9 468.8,288.9 468.8,288.8 468.9,288.8 468.9,288.7 468.9,288.6 469.0,288.5 469.1,288.5 469.1,288.5 469.1,288.4 469.2,288.4 469.2,288.3 469.3,288.2 469.4,288.1 469.4,288.0 469.4,287.9 469.5,287.8 469.6,287.7 469.6,287.6 469.6,287.4 469.7,287.3 469.8,287.2 469.8,287.0 469.9,286.9 469.9,286.8 469.9,286.7 470.0,286.6 470.1,286.4 470.1,286.3 470.1,286.1 470.2,286.0 470.2,285.9 470.3,285.8 470.4,285.7 470.4,285.6 470.4,285.6 470.5,285.6 470.6,285.5 470.6,285.5 470.6,285.5 470.7,285.6 470.8,285.6 470.8,285.6 470.9,285.6 470.9,285.6 470.9,285.7 471.0,285.7 471.1,285.8 471.1,285.9 471.1,286.0 471.2,286.1 471.2,286.1 471.3,286.2 471.4,286.3 471.4,286.4 471.4,286.5 471.5,286.5 471.6,286.6 471.6,286.7 471.6,286.8 471.7,286.9 471.8,287.0 471.8,287.1 471.9,287.2 471.9,287.3 471.9,287.4 472.0,287.5 472.1,287.5 472.1,287.6 472.1,287.6 472.2,287.6 472.2,287.7 472.3,287.7 472.5,287.8 472.7,287.8 472.9,287.7 473.1,287.6 473.3,287.5 473.5,287.4 473.7,287.2 473.9,286.9 474.1,286.6 474.3,286.3 474.5,285.8 474.7,285.3 474.8,285.2 474.8,285.0 474.9,284.9 474.9,284.7 474.9,284.5 475.0,284.4 475.1,284.2 475.1,284.0 475.1,283.8 475.2,283.6 475.2,283.3 475.3,283.1 475.4,282.8 475.4,282.4 475.4,282.0 475.5,281.5 475.6,280.9 475.6,280.2 475.6,279.2 475.7,278.0 475.8,276.5 475.8,274.7 475.9,272.5 475.9,270.0 475.9,267.0 476.0,263.6 476.1,259.9 476.1,255.9 476.1,251.8 476.2,247.8 476.2,243.9 476.3,240.3 476.4,237.3 476.4,235.1 476.4,233.6 476.5,233.0 476.6,233.4 476.6,234.7 476.6,236.8 476.7,239.5 476.8,242.8 476.8,246.4 476.9,250.1 476.9,253.7 476.9,257.1 477.0,260.0 477.1,262.5 477.1,264.3 477.1,265.6 477.2,266.2 477.2,266.1 477.3,265.5 477.4,264.5 477.4,263.0 477.4,261.3 477.5,259.4 477.6,257.5 477.6,255.8 477.6,254.3 477.7,253.2 477.8,252.6 477.8,252.4 477.9,252.9 477.9,253.9 477.9,255.3 478.0,257.2 478.1,259.4 478.1,261.9 478.1,264.4 478.2,266.9 478.2,269.4 478.3,271.7 478.4,273.8 478.4,275.6 478.4,277.3 478.5,278.6 478.7,282.1 478.9,283.6 479.1,284.5 479.3,285.1 479.5,285.6 479.7,286.1 479.9,286.4 480.1,286.8 480.3,287.0 480.5,287.2 481.5,288.1 482.5,289.0 483.5,289.4 483.7,289.5 483.9,289.5 484.1,289.5 484.3,289.5 484.5,289.6 484.7,289.6 484.9,289.6 485.1,289.7 485.3,289.7 485.5,289.7 485.6,289.7 485.6,289.7 485.6,289.6 485.7,289.6 485.8,289.6 485.8,289.5 485.9,289.5 485.9,289.4 485.9,289.4 486.0,289.3 486.1,289.1 486.1,288.9 486.1,288.8 486.2,288.6 486.2,288.3 486.3,288.1 486.4,287.8 486.4,287.6 486.4,287.3 486.5,287.0 486.6,286.7 486.6,286.3 486.6,286.0 486.7,285.7 486.8,285.3 486.8,285.0 486.9,284.7 486.9,284.4 486.9,284.1 487.0,283.8 487.1,283.5 487.1,283.3 487.1,283.2 487.2,283.0 487.2,282.9 487.3,282.8 487.4,282.8 487.4,282.8 487.4,282.8 487.5,282.9 487.6,282.9 487.6,283.0 487.6,283.2 487.7,283.3 487.8,283.4 487.8,283.6 487.9,283.7 487.9,283.9 487.9,284.0 488.0,284.2 488.1,284.3 488.1,284.4 488.1,284.5 488.2,284.6 488.2,284.7 488.3,284.8 488.4,284.9 488.4,284.9 488.4,285.0 488.5,285.1 488.6,285.2 488.6,285.3 488.6,285.4 488.7,285.5 488.8,285.6 488.8,285.7 488.9,285.8 488.9,285.9 488.9,286.1 489.0,286.2 489.1,286.4 489.1,286.6 489.1,286.8 489.2,287.0 489.2,287.2 489.3,287.4 489.5,288.1 489.7,288.6 489.9,289.0 490.1,289.3 490.3,289.6 490.5,289.8 490.7,290.1 490.9,290.2 491.1,290.3 491.3,290.2 492.3,290.0 493.3,289.9 494.3,289.9 495.3,289.5 496.3,289.7 497.3,289.5 498.3,289.6 498.5,289.7 498.7,289.9 498.9,290.0 499.1,290.1 499.3,290.1 499.5,290.0 499.7,289.9 499.8,289.9 499.8,289.8 499.9,289.8 499.9,289.7 499.9,289.7 500.0,289.6 500.1,289.5 500.1,289.4 500.1,289.3 500.2,289.2 500.2,289.1 500.3,289.0 500.4,288.8 500.4,288.7 500.4,288.5 500.5,288.4 500.6,288.2 500.6,288.0 500.6,287.8 500.7,287.7 500.8,287.5 500.8,287.3 500.9,287.1 500.9,286.9 500.9,286.7 501.0,286.5 501.1,286.4 501.1,286.2 501.1,286.1 501.2,285.9 501.2,285.8 501.3,285.7 501.4,285.6 501.4,285.6 501.4,285.5 501.5,285.5 501.6,285.5 501.6,285.4 501.6,285.4 501.7,285.5 501.8,285.5 501.8,285.5 501.9,285.6 501.9,285.7 501.9,285.7 502.0,285.8 502.1,285.9 502.1,285.9 502.1,286.0 502.2,286.1 502.2,286.1 502.3,286.2 502.4,286.3 502.4,286.3 502.4,286.4 502.5,286.4 502.6,286.5 502.6,286.6 502.6,286.6 502.7,286.7 502.8,286.7 502.8,286.8 502.9,286.8 502.9,286.9 502.9,287.0 503.0,287.0 503.1,287.1 503.1,287.3 503.1,287.4 503.2,287.5 503.2,287.6 503.3,287.7 503.4,287.8 503.4,288.0 503.4,288.1 503.5,288.2 503.7,288.7 503.9,289.2 504.1,289.5 504.3,289.7 504.5,289.9 504.7,290.0 504.9,290.1 505.1,290.2 505.3,290.3 505.5,290.3 506.5,290.5 507.5,290.4 508.5,290.2 509.5,290.0 510.5,290.0 511.5,290.2 512.5,290.4 513.5,290.3 514.5,290.5 515.5,290.5 516.5,290.3 517.5,290.0 517.7,290.0 517.9,289.9 518.1,289.9 518.3,289.8 518.5,289.7 518.7,289.7 518.8,289.6 518.8,289.6 518.9,289.6 518.9,289.6 519.0,289.6 519.0,289.5 519.0,289.5 519.1,289.5 519.1,289.4 519.2,289.4 519.2,289.3 519.3,289.3 519.4,289.2 519.4,289.2 519.5,289.2 519.5,289.1 519.5,289.1 519.6,289.0 519.6,289.0 519.7,289.0 519.8,288.9 519.8,288.9 519.9,288.8 519.9,288.8 520.0,288.8 520.0,288.7 520.0,288.7 520.1,288.7 520.1,288.7 520.2,288.6 520.2,288.6 520.3,288.6 520.4,288.6 520.4,288.6 520.5,288.6 520.5,288.6 520.5,288.5 520.6,288.5 520.6,288.5 520.7,288.5 520.8,288.5 520.8,288.5 520.9,288.5 520.9,288.5 521.0,288.5 521.0,288.5 521.0,288.5 521.1,288.6 521.1,288.6 521.2,288.6 521.2,288.6 521.3,288.7 521.4,288.7 521.4,288.7 521.5,288.8 521.5,288.8 521.5,288.8 521.6,288.9 521.6,288.9 521.7,288.9 521.8,289.0 521.8,289.0 521.9,289.0 521.9,289.1 522.0,289.1 522.0,289.2 522.0,289.2 522.1,289.2 522.1,289.2 522.2,289.2 522.2,289.2 522.3,289.2 522.4,289.2 522.4,289.2 522.5,289.3 522.5,289.3 522.7,289.3 522.9,289.4 523.1,289.4 523.3,289.5 523.5,289.6 523.7,289.7 523.9,289.8 524.1,289.9 524.3,290.1 524.5,290.2 525.5,290.4 526.5,290.4 527.5,290.4 528.5,290.5 529.5,290.6" fill="none" stroke="#ff3030" stroke-width="1.85" stroke-linejoin="round"/>
<g stroke="#000" stroke-width="1.6"><line x1="54.3" y1="398.5" x2="54.3" y2="391.3"/><line x1="88.3" y1="398.5" x2="88.3" y2="394.8"/><line x1="122.3" y1="398.5" x2="122.3" y2="391.3"/><line x1="156.3" y1="398.5" x2="156.3" y2="394.8"/><line x1="190.3" y1="398.5" x2="190.3" y2="391.3"/><line x1="224.3" y1="398.5" x2="224.3" y2="394.8"/><line x1="258.3" y1="398.5" x2="258.3" y2="391.3"/><line x1="292.3" y1="398.5" x2="292.3" y2="394.8"/><line x1="326.3" y1="398.5" x2="326.3" y2="391.3"/><line x1="360.3" y1="398.5" x2="360.3" y2="394.8"/><line x1="394.3" y1="398.5" x2="394.3" y2="391.3"/><line x1="428.3" y1="398.5" x2="428.3" y2="394.8"/><line x1="462.3" y1="398.5" x2="462.3" y2="391.3"/><line x1="496.3" y1="398.5" x2="496.3" y2="394.8"/><line x1="530.3" y1="398.5" x2="530.3" y2="391.3"/></g>
<g font-size="21" fill="#000" stroke="#000" stroke-width="0.3"><text transform="translate(54.2,422.9) scale(0.95,1.05)" text-anchor="middle">10</text><text transform="translate(122.2,422.9) scale(0.95,1.05)" text-anchor="middle">20</text><text transform="translate(190.2,422.9) scale(0.95,1.05)" text-anchor="middle">30</text><text transform="translate(258.2,422.9) scale(0.95,1.05)" text-anchor="middle">40</text><text transform="translate(326.2,422.9) scale(0.95,1.05)" text-anchor="middle">50</text><text transform="translate(394.2,422.9) scale(0.95,1.05)" text-anchor="middle">60</text><text transform="translate(462.2,422.9) scale(0.95,1.05)" text-anchor="middle">70</text><text transform="translate(530.2,422.9) scale(0.95,1.05)" text-anchor="middle">80</text></g>
<g font-size="20.5" fill="#000" stroke="#000" stroke-width="0.4" text-anchor="middle"><text x="221.1" y="204.7">*</text><text x="231.9" y="97.6">*</text><text x="249.1" y="217.7">*</text><text x="270.6" y="260.4">*</text><text x="297.6" y="272.4">*</text><text x="360.6" y="272.5">*</text><text x="398.1" y="192.5">*</text><text x="435.2" y="263.5">*</text><text x="470.5" y="278.8">*</text><text x="477.3" y="226.4">*</text><text x="487.6" y="274.7">*</text><text x="502.6" y="279.5">*</text><text x="521.4" y="281.9">*</text></g>
<g stroke="#000" stroke-width="0.3">
<text x="71" y="45.9" font-size="22" fill="#000"><tspan dy="-2.2" dx="1.3" font-size="19.5" stroke-width="0.45">*</tspan><tspan dy="2.2" dx="0.3"> 6H-SiC</tspan></text>
</g>
<line x1="342" y1="40" x2="387.4" y2="40" stroke="#4a4a4a" stroke-width="2"/>
<line x1="342" y1="64.4" x2="387.4" y2="64.4" stroke="#ff3030" stroke-width="2"/>
<g stroke="#000" stroke-width="0.3">
<text transform="translate(392,46.8) scale(1,1.05)" font-size="20" fill="#000">pristine SiC</text>
<text transform="translate(391.6,70.9) scale(1,1.05)" font-size="20" fill="#000">SiC/SiO<tspan font-size="13.5" dy="5.2">2</tspan><tspan dy="-5.2">-60</tspan></text>
<text transform="translate(121.1,237.3) scale(0.97,1.05)" font-size="21" fill="#2020ff" stroke="#2020ff" stroke-width="0.25">SiO<tspan font-size="14" dy="5.7" dx="0.8">2</tspan></text>
<text transform="translate(23.1,269.4) rotate(-90)" x="0" y="0" font-size="21.7" fill="#000">Intensity (a.u.)</text>
<text x="265.5" y="458.8" font-size="21.5" fill="#000">2<tspan x="294.1">(</tspan><tspan x="301.8" dy="1.4">°</tspan><tspan x="311.7" dy="-1.4">)</tspan></text>
</g>
<text transform="translate(277.5,458.9) scale(1.18,1)" font-family="Noto Serif CJK SC, serif" font-style="italic" font-weight="500" font-size="19.8" fill="#000">θ</text>
</svg>
</body></html>
